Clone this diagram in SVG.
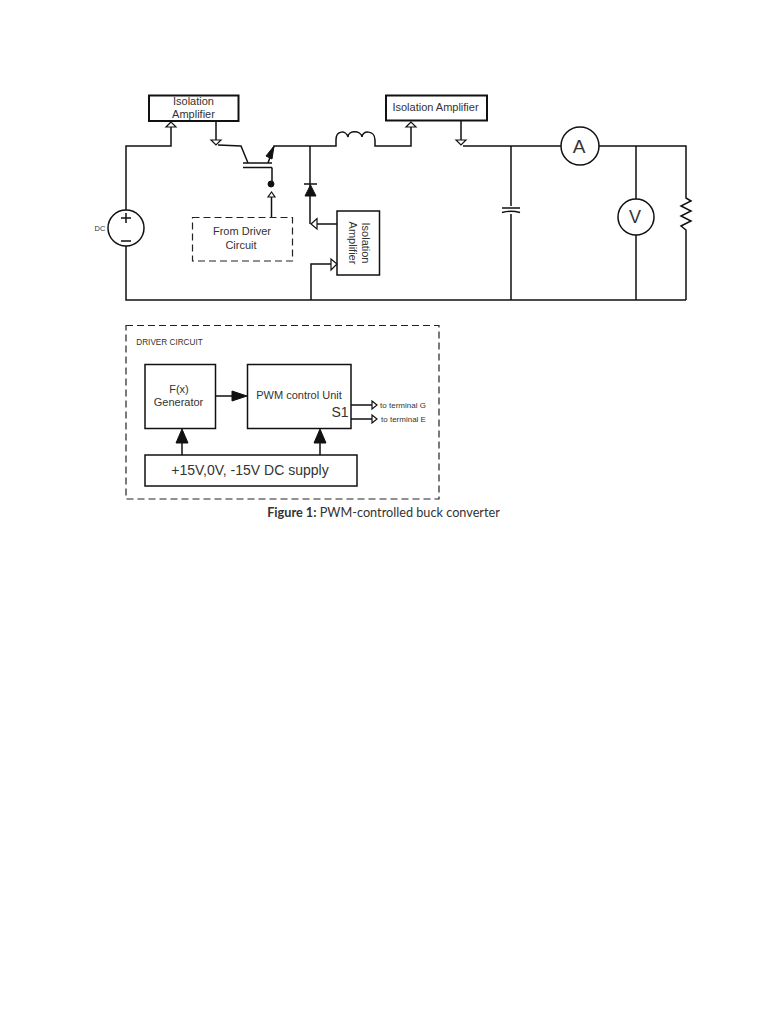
<svg xmlns="http://www.w3.org/2000/svg" width="768" height="1024" viewBox="0 0 768 1024">
<defs><style>
text{font-family:"Liberation Sans",Arial,sans-serif;fill:#333;text-anchor:middle}
.box{fill:#fff;stroke:#111;stroke-width:1.5}
.shadow{fill:#fff;stroke:#111;stroke-width:2}
.w{fill:none;stroke:#111;stroke-width:1.5}
.open{fill:#fff;stroke:#111;stroke-width:1.2}
.fill{fill:#111;stroke:#111;stroke-width:1}
.dash{fill:none;stroke:#222;stroke-width:1.2;stroke-dasharray:7 4}
</style></defs>
<rect width="768" height="1024" fill="#fff"/>
<g id="connectors">
<path class="w" d="M126 210V146H171V126"/>
<path class="w" d="M216 121V140M218 145L241 146L248 163M243 163H272M243 167.500H272M268 163L274 146H310M272 167.500V184"/>
<path class="w" d="M271.500 218V197" stroke-width="1"/>
<path class="w" d="M310 146V224"/>
<path class="w" d="M337 224H317"/>
<path class="w" d="M311 300V264H331"/>
<path class="w" d="M310 146H336V140C336 130 346 130 348 137C348 130 361 130 362 137C362 130 375 130 375 140V146H411V126"/>
<path class="w" d="M461 120V140M463 146H561M599 146H686V198L691 201L681 206L691 211L681 216L691 221L681 226L686 230V300M636 146V199M636 235V300"/>
<path class="w" d="M511 146V206M511 214V300"/>
<path class="w" d="M126 246V300H686"/>
<path class="w" d="M502 208H520" stroke-width="2"/>
<path class="w" d="M502 212.500Q511 210 520 212.500"/>
<path class="w" d="M215.500 396H232M182 455V443M320 455V443M351 405H372M351 419H372"/>
<path class="open" d="M171 122L166 127H176Z"/>
<path class="open" d="M211 140H221L216 145Z"/>
<path class="open" d="M271.500 192L268 197H275Z"/>
<path class="open" d="M311 224L317 218.500V229Z"/>
<path class="open" d="M337 264L331 259V270Z"/>
<path class="open" d="M411 122L406 127H416Z"/>
<path class="open" d="M456 140H466L461 145Z"/>
<path class="open" d="M377 405L372 401V409Z"/>
<path class="open" d="M377 419L372 415V423Z"/>
<path class="fill" d="M274 146L266 156L272 159Z"/>
<path class="fill" d="M247 396L232 391V401Z"/>
<path class="fill" d="M182 429L176 443H188Z"/>
<path class="fill" d="M320 429L314 443H326Z"/>
<circle class="fill" cx="271" cy="184" r="3"/>
<path class="fill" d="M310.500 185L305 196H316Z"/>
<path class="w" d="M304 184H317" stroke-width="2"/>
</g>
<g id="iso-amp-1"><rect class="shadow" x="149" y="95.500" width="89.500" height="25.500"/><text x="193.500" y="105" font-size="11">Isolation</text><text x="193.500" y="118" font-size="11">Amplifier</text></g>
<g id="iso-amp-2"><rect class="shadow" x="386" y="95.500" width="101" height="25"/><text x="435.500" y="111" font-size="11">Isolation Amplifier</text></g>
<g id="iso-amp-3"><rect class="box" x="337" y="211" width="42.500" height="64"/><text transform="translate(362 243) rotate(90)" font-size="11">Isolation</text><text transform="translate(349 243) rotate(90)" font-size="11">Amplifier</text></g>
<g id="dc-source"><circle class="box" cx="126" cy="228" r="18"/><path class="w" d="M121 218H131M126 213V223M121 241H131"/><text x="100" y="231" font-size="7.500">DC</text></g>
<g id="from-driver"><rect class="dash" x="192.500" y="217.500" width="100" height="43.500"/><text x="242" y="235" font-size="11">From Driver</text><text x="241" y="249" font-size="11">Circuit</text></g>
<g id="ammeter"><circle class="box" cx="580" cy="146" r="19"/><text x="579" y="153" font-size="19">A</text></g>
<g id="voltmeter"><circle class="box" cx="636" cy="217" r="18"/><text x="635" y="223" font-size="18">V</text></g>
<g id="driver-circuit"><rect class="dash" x="126" y="325.500" width="313" height="173.500" stroke-width="1.500"/><text x="169.500" y="345" font-size="8.200">DRIVER CIRCUIT</text></g>
<g id="fx-generator"><rect class="box" x="145" y="364.500" width="70.500" height="64"/><text x="179" y="393" font-size="11">F(x)</text><text x="178.500" y="406" font-size="11">Generator</text></g>
<g id="pwm-unit"><rect class="box" x="247.500" y="364.500" width="103.500" height="64"/><text x="299" y="399" font-size="11">PWM control Unit</text><text x="340" y="417" font-size="14">S1</text></g>
<g id="supply"><rect class="box" x="145" y="455" width="212" height="31"/><text x="250" y="475" font-size="14">+15V,0V, -15V DC supply</text></g>
<g id="outputs"><text x="403" y="408" font-size="8">to terminal G</text><text x="403.500" y="422" font-size="8">to terminal E</text></g>
<g id="caption"><text x="383.500" y="517" font-size="12.700" style="font-family:Lato,'Liberation Sans',sans-serif"><tspan font-weight="bold">Figure 1:</tspan> PWM-controlled buck converter</text></g>
</svg>
